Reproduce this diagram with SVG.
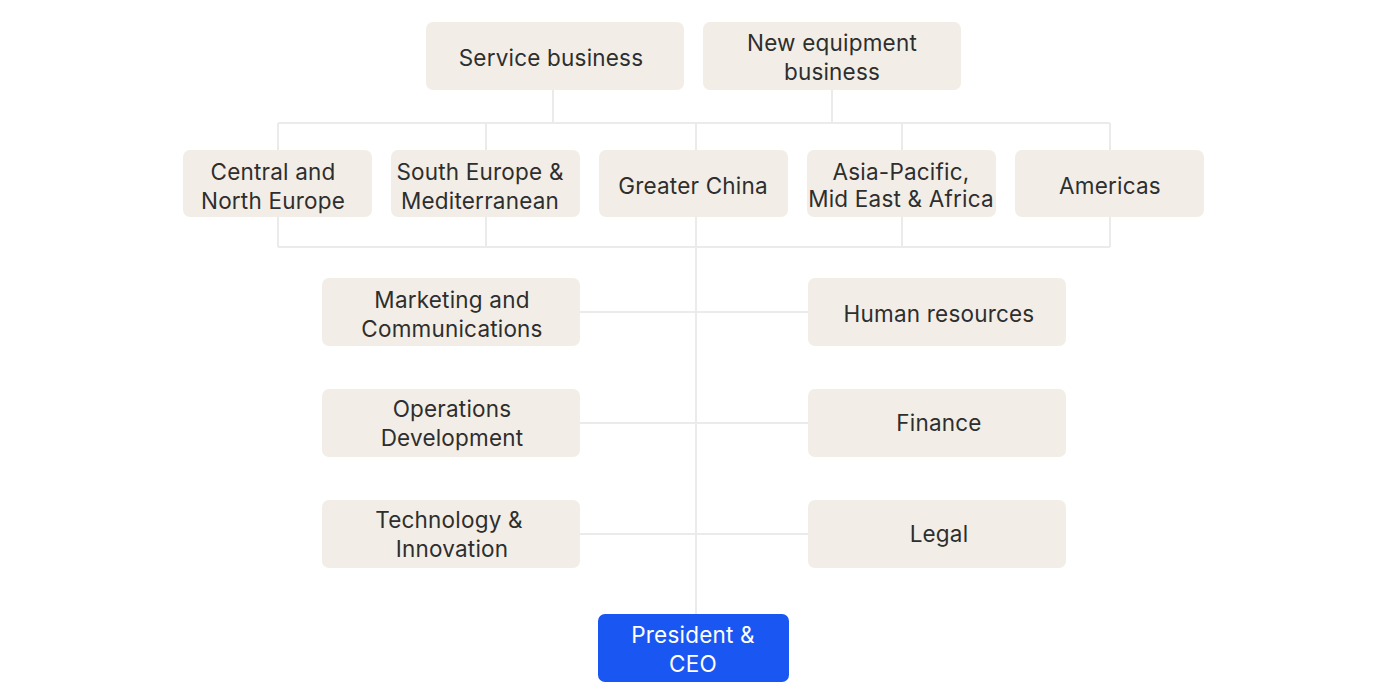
<svg xmlns="http://www.w3.org/2000/svg" width="1400" height="700" viewBox="0 0 1400 700">
<style>
.box{fill:#f2eee7;}
.ceo{fill:#1a57f2;}
.t{font-family:Inter,"Noto Sans","Liberation Sans",sans-serif;font-size:22.5px;letter-spacing:0.2px;fill:#2e2e2e;text-anchor:middle;dominant-baseline:central;}
.tw{fill:#ffffff;}
.c{stroke:#ebebeb;stroke-width:2;fill:none;}
</style>
<rect width="1400" height="700" fill="#ffffff"/>
<g id="connectors">
<path class="c" d="M553 90V123M832 90V123M278 123H1110M278 123V150M486 123V150M696 123V150M902 123V150M1110 123V150"/>
<path class="c" d="M278 217V247M486 217V247M902 217V247M1110 217V247M278 247H1110"/>
<path class="c" d="M696 217V614"/>
<path class="c" d="M580 312H808M580 423H808M580 534H808"/>
</g>
<g id="service"><rect class="box" x="426" y="22" width="258" height="68" rx="7"/><text class="t" x="551" y="57">Service business</text></g>
<g id="newequip"><rect class="box" x="703" y="22" width="258" height="68" rx="7"/><text class="t" x="832" y="42">New equipment</text><text class="t" x="832" y="71">business</text></g>
<g id="cne"><rect class="box" x="183" y="150" width="189" height="67" rx="7"/><text class="t" x="273" y="171">Central and</text><text class="t" x="273" y="200">North Europe</text></g>
<g id="sem"><rect class="box" x="391" y="150" width="189" height="67" rx="7"/><text class="t" x="480" y="171">South Europe &amp;</text><text class="t" x="480" y="200">Mediterranean</text></g>
<g id="gc"><rect class="box" x="599" y="150" width="189" height="67" rx="7"/><text class="t" x="693" y="185">Greater China</text></g>
<g id="apmea"><rect class="box" x="807" y="150" width="189" height="67" rx="7"/><text class="t" x="901" y="171">Asia-Pacific,</text><text class="t" x="901" y="198">Mid East &amp; Africa</text></g>
<g id="americas"><rect class="box" x="1015" y="150" width="189" height="67" rx="7"/><text class="t" x="1110" y="185">Americas</text></g>
<g id="marketing"><rect class="box" x="322" y="278" width="258" height="68" rx="7"/><text class="t" x="452" y="299">Marketing and</text><text class="t" x="452" y="328">Communications</text></g>
<g id="hr"><rect class="box" x="808" y="278" width="258" height="68" rx="7"/><text class="t" x="939" y="313">Human resources</text></g>
<g id="ops"><rect class="box" x="322" y="389" width="258" height="68" rx="7"/><text class="t" x="452" y="408">Operations</text><text class="t" x="452" y="437">Development</text></g>
<g id="finance"><rect class="box" x="808" y="389" width="258" height="68" rx="7"/><text class="t" x="939" y="422">Finance</text></g>
<g id="tech"><rect class="box" x="322" y="500" width="258" height="68" rx="7"/><text class="t" x="449" y="519">Technology &amp;</text><text class="t" x="452" y="548">Innovation</text></g>
<g id="legal"><rect class="box" x="808" y="500" width="258" height="68" rx="7"/><text class="t" x="939" y="533">Legal</text></g>
<g id="ceo"><rect class="ceo" x="598" y="614" width="191" height="68" rx="7"/><text class="t tw" x="693" y="634">President &amp;</text><text class="t tw" x="693" y="663">CEO</text></g>
</svg>
